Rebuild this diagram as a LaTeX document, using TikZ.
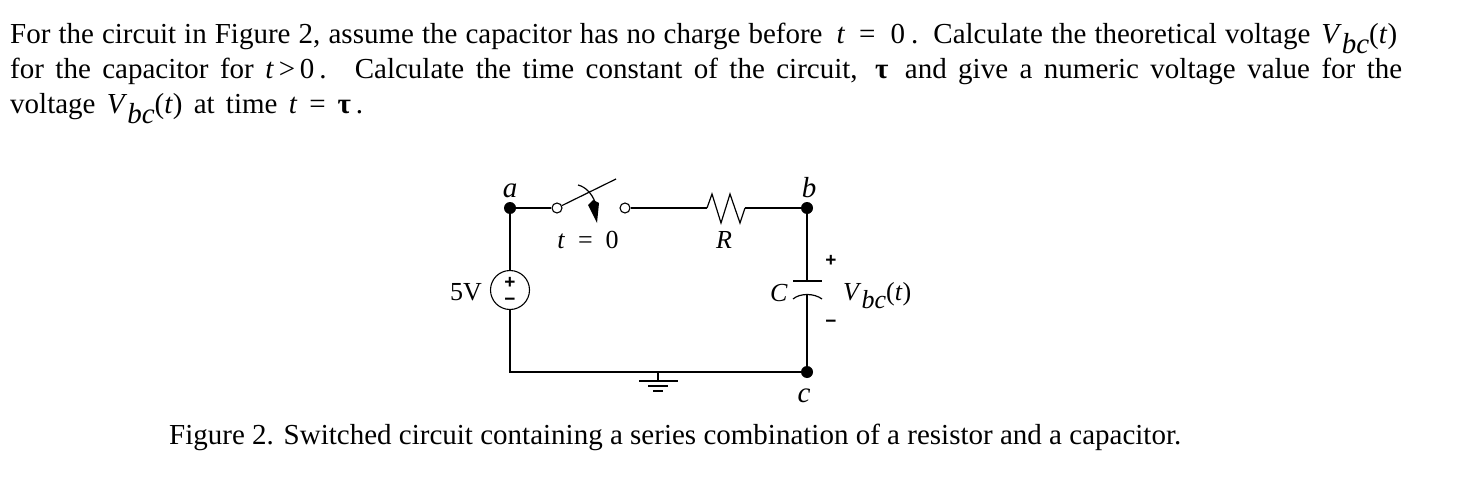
\documentclass[tikz,border=0pt]{standalone}
\usepackage{fontspec}
\setmainfont{Liberation Serif}
\newfontfamily\signfont{Liberation Sans}
\newcommand{\Vbcsym}{\textit{V}\raisebox{-0.32em}{\textit{bc}}(\textit{t})}
\newcommand{\tausym}{\textbf{τ}}
\tikzset{
  wire/.style={line width=1.8pt},
  thinwire/.style={line width=1.2pt},
  dotnode/.style={circle,fill=black,inner sep=0pt,minimum size=12pt},
  termnode/.style={circle,draw,fill=white,line width=1.1pt,inner sep=0pt,minimum size=10pt},
  textline/.style={anchor=base west,inner sep=0pt,font=\fontsize{29}{35}\selectfont},
  partlabel/.style={anchor=base,inner sep=0pt,font=\fontsize{26}{30}\selectfont},
  signlabel/.style={inner sep=0pt,font=\signfont\bfseries\fontsize{19}{22}\selectfont}
}
\begin{document}
\begin{tikzpicture}[x=1pt,y=-1pt]
\useasboundingbox (0,0) rectangle (1459,484);
\node[textline] (line1) at (10,44) {\hbox to 1387pt{For the circuit in Figure 2, assume the capacitor has no charge before\hspace{6pt} \textit{t}\hspace{14pt}=\hspace{15pt}0\hspace{6pt}.\hspace{3pt} Calculate the theoretical voltage\hspace{3pt} \Vbcsym}};
\node[textline] (line2) at (10,79) {\hbox to 1392pt{for the capacitor for \textit{t}\,>\,0\,.\hspace{6pt} Calculate the time constant of the circuit,\hspace{5pt} \tausym\hspace{5pt} and give a numeric voltage value for the}};
\node[textline] (line3) at (10,114) {\hbox to 353pt{voltage \Vbcsym{} at time \textit{t}\hspace{12pt}=\hspace{12pt}\tausym\,.}};
\node[dotnode] (a) at (510,208) {};
\node[dotnode] (b) at (807,208) {};
\node[dotnode] (c) at (807,372) {};
\node[termnode] (swl) at (557,208) {};
\node[termnode] (swr) at (625,208) {};
\node[circle,draw,line width=1.1pt,inner sep=0pt,minimum size=39pt] (vs) at (510,290) {};
\coordinate (swtop) at (616,179);
\coordinate (rl) at (707,208);
\coordinate (rr) at (745,208);
\coordinate (corner) at (510,372);
\coordinate (captop) at (807,281);
\coordinate (capbot) at (807,294);
\coordinate (gnd) at (658,372);
\coordinate (gndbar) at (658,381);
\draw[wire] (a) -- (swl);
\draw[wire] (a) -- (vs);
\draw[wire] (vs) -- (corner) -- (c);
\draw[thinwire] (swl) -- (swtop);
\draw[thinwire] (578,185) .. controls (586,187) and (592,194) .. (595,202);
\fill (593,200) -- (599,203) -- (597,223) -- (588,205) -- cycle;
\draw[wire] (swr) -- (rl);
\draw[thinwire] (rl) -- (712,194) -- (721,223) -- (730,194) -- (740,223) -- (rr);
\draw[wire] (rr) -- (b);
\draw[wire] (b) -- (captop);
\draw[wire] (capbot) -- (c);
\draw[wire] (793,281) -- (822,281);
\draw[thinwire] (793,299) .. controls (800,293) and (814,293) .. (822,299);
\draw[wire] (gnd) -- (gndbar);
\draw[wire] (639,381) -- (678,381);
\draw[wire] (648,386) -- (668,386);
\draw[wire] (653,391) -- (663,391);
\node[partlabel,font=\fontsize{29}{30}\selectfont] (alabel) at (510,197) {\textit{a}};
\node[partlabel,font=\fontsize{29}{30}\selectfont] (blabel) at (809,197) {\textit{b}};
\node[partlabel,font=\fontsize{29}{30}\selectfont] (clabel) at (804,402) {\textit{c}};
\node[partlabel] (rlabel) at (724,248) {\textit{R}};
\node[partlabel] (clabelb) at (779,301) {\textit{C}};
\node[partlabel] (tlabel) at (588,248) {\textit{t}\hspace{13pt}=\hspace{13pt}0};
\node[partlabel] (vslabel) at (466,300) {5V};
\node[partlabel,anchor=base west] (vbclabel) at (843,300) {\Vbcsym};
\node[signlabel] (vsplus) at (510,283) {+};
\node[signlabel] (vsminus) at (510,302) {−};
\node[signlabel] (capplus) at (831,261) {+};
\node[signlabel] (capminus) at (831,324) {−};
\node[textline] (caption) at (169,444) {\hbox to 1012pt{Figure 2. Switched circuit containing a series combination of a resistor and a capacitor.}};
\end{tikzpicture}
\end{document}
